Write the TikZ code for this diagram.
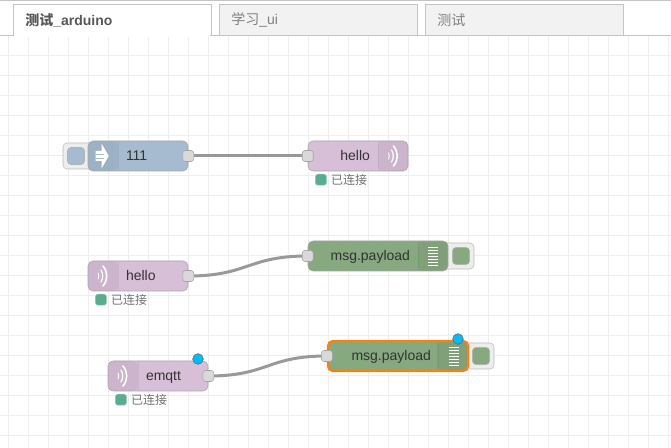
\documentclass[tikz,border=0pt]{standalone}
\usepackage{fontspec}
\setmainfont{Liberation Sans}
\newfontfamily\cjk{Noto Sans CJK SC}
\usetikzlibrary{calc,positioning}

\definecolor{gridline}{HTML}{EEEEEE}
\definecolor{tabline}{HTML}{C4C4C4}
\definecolor{nodeline}{HTML}{A5A5A5}
\definecolor{injectblue}{HTML}{A6BBCF}
\definecolor{mqttpurple}{HTML}{D8BFD8}
\definecolor{debuggreen}{HTML}{87A980}
\definecolor{statusgreen}{HTML}{57AD8D}
\definecolor{wirecolor}{HTML}{999999}
\definecolor{selected}{HTML}{FF7F0E}
\definecolor{changed}{HTML}{00BCFF}

\newcommand{\wifiicon}[1]{
    \begin{scope}[shift={(#1)},white,line cap=round]
        \draw[line width=.7pt] (-25:7) arc[start angle=-25,end angle=25,radius=7];
        \draw[line width=.9pt] (-33:11) arc[start angle=-33,end angle=33,radius=11];
        \draw[line width=1.2pt] (-42:15) arc[start angle=-42,end angle=42,radius=15];
    \end{scope}
}
\newcommand{\debugicon}[1]{
    \begin{scope}[shift={(#1)},white,line width=.7pt]
        \foreach \i in {-9,-6,...,9}
            \draw (0,\i) -- (10,\i);
    \end{scope}
}

\begin{document}
\begin{tikzpicture}[x=.75pt,y=-.75pt,node distance=3pt,
    tab node/.style={draw=tabline,fill=#1,anchor=north west,minimum height=23.25pt,
        text width=130pt,inner xsep=9.4pt,inner ysep=0pt,align=left,font=\fontsize{10.5}{12}\selectfont},
    base node/.style={draw=nodeline,rounded corners=3.75pt,minimum height=22.5pt,inner sep=0pt},
    icon left/.style={path picture={
        \fill[black,opacity=.05] (path picture bounding box.north west) rectangle ([xshift=22.5pt]path picture bounding box.south west);
        \draw[black,opacity=.05] ([xshift=22.5pt]path picture bounding box.north west) -- ([xshift=22.5pt]path picture bounding box.south west);}},
    icon right/.style={path picture={
        \fill[black,opacity=.05] (path picture bounding box.north east) rectangle ([xshift=-22.5pt]path picture bounding box.south east);
        \draw[black,opacity=.05] ([xshift=-22.5pt]path picture bounding box.north east) -- ([xshift=-22.5pt]path picture bounding box.south east);}},
    inject node/.style={base node,fill=injectblue,minimum width=75pt,icon left},
    mqtt in/.style={base node,fill=mqttpurple,minimum width=75pt,icon left},
    mqtt out/.style={base node,fill=mqttpurple,minimum width=75pt,icon right},
    debug node/.style={base node,fill=debuggreen,minimum width=105pt,icon right},
    port node/.style={draw=nodeline,fill=black!15,rounded corners=2pt,minimum size=8.25pt,inner sep=0pt},
    button node/.style={draw=black!27,fill=black!7,rounded corners=3pt,minimum width=22.5pt,minimum height=19.5pt,inner sep=0pt},
    button fill/.style={draw=black!30,fill=#1,rounded corners=2.5pt,minimum size=12.75pt,inner sep=0pt},
    name text/.style={inner sep=0pt,text=black!80,text height=8.5pt,text depth=1pt,font=\fontsize{10.5}{12}\selectfont},
    status dot/.style={fill=statusgreen,draw=statusgreen!70,rounded corners=2pt,minimum size=8.25pt,inner sep=0pt},
    status text/.style={inner sep=0pt,text=black!55,font=\cjk\fontsize{9}{10}\selectfont},
    dirty dot/.style={circle,fill=changed,draw=black!60,line width=.4pt,minimum size=8pt,inner sep=0pt},
    wire/.style={draw=wirecolor,line width=2.25pt}]

    \useasboundingbox (0,0) rectangle (671,448);

    % canvas
    \foreach \x in {8,28,...,668}
        \draw[gridline,line width=.75pt] (\x,36) -- (\x,448);
    \foreach \y in {56,76,...,436}
        \draw[gridline,line width=.75pt] (0,\y) -- (671,\y);

    % tabs
    \draw[tabline,line width=.75pt] (0,.5) -- (671,.5);
    \draw[tabline,line width=.75pt] (0,35.5) -- (671,35.5);
    \node[tab node=white,text=black!65] (tab1) at (12.5,4.5) {\textbf{{\cjk 测试}\_arduino}};
    \node[tab node=black!5,text=black!50] (tab2) at (218.5,4.5) {{\cjk 学习}\_ui};
    \node[tab node=black!5,text=black!50] (tab3) at (424.5,4.5) {\cjk 测试};
    \draw[white,line width=1pt] ([xshift=.75pt]tab1.south west) -- ([xshift=-.75pt]tab1.south east);

    % buttons sit behind the nodes
    \node[button node] (btn1) at (78,156) {};
    \node[button node] (btn2) at (459,256) {};
    \node[button node] (btn3) at (479,356) {};

    \node[inject node] (inject) at (138,156) {};
    \node[mqtt out] (out) at (358,156) {};
    \node[mqtt in] (in1) at (138,276) {};
    \node[debug node] (debug1) at (378,256) {};
    \node[mqtt in] (in2) at (158,376) {};
    \node[debug node,draw=selected,line width=1.75pt] (debug2) at (398,356) {};

    \node[button fill=injectblue] (btn1in) at (76,156) {};
    \node[button fill=debuggreen] (btn2in) at (461,256) {};
    \node[button fill=debuggreen] (btn3in) at (481,356) {};

    \path[wire] (inject.east) -- (out.west);
    \path[wire] (in1.east) .. controls +(60,0) and +(-60,0) .. (debug1.west);
    \path[wire] (in2.east) .. controls +(60,0) and +(-60,0) .. (debug2.west);

    \node[port node] (p1) at (inject.east) {};
    \node[port node] (p2) at (out.west) {};
    \node[port node] (p3) at (in1.east) {};
    \node[port node] (p4) at (debug1.west) {};
    \node[port node] (p5) at (in2.east) {};
    \node[port node] (p6) at (debug2.west) {};

    \node[name text,right=28.5pt of inject.west] {111};
    \node[name text,left=28.5pt of out.east] {hello};
    \node[name text,right=28.5pt of in1.west] {hello};
    \node[name text,right=28.5pt of in2.west] {emqtt};
    \node[name text,left=28.5pt of debug1.east] {msg.payload};
    \node[name text,left=28.5pt of debug2.east] {msg.payload};

    % icons
    \wifiicon{$(out.east)+(-26,0)$}
    \debugicon{$(debug1.east)+(-20,0)$}
    \debugicon{$(debug2.east)+(-20,0)$}
    \wifiicon{$(in1.west)+(4,0)$}
    \wifiicon{$(in2.west)+(4,0)$}
    \begin{scope}[shift={(inject.west)}]
        \fill[white] (8,-5) -- (14,-5) -- (14,-12) -- (21,0) -- (14,12) -- (14,5) -- (8,5) -- cycle;
        \draw[injectblue,line width=.6pt] (8,-2) -- (16,-2) (8,2) -- (16,2);
    \end{scope}

    \node[status dot,below right=2pt and 5.6pt of out.south west] (st1) {};
    \node[status text,right=of st1] {已连接};
    \node[status dot,below right=2pt and 5.6pt of in1.south west] (st2) {};
    \node[status text,right=of st2] {已连接};
    \node[status dot,below right=2pt and 5.6pt of in2.south west] (st3) {};
    \node[status text,right=of st3] {已连接};

    \node[dirty dot] (dot1) at (198,359) {};
    \node[dirty dot] (dot2) at (458,339) {};
\end{tikzpicture}
\end{document}
